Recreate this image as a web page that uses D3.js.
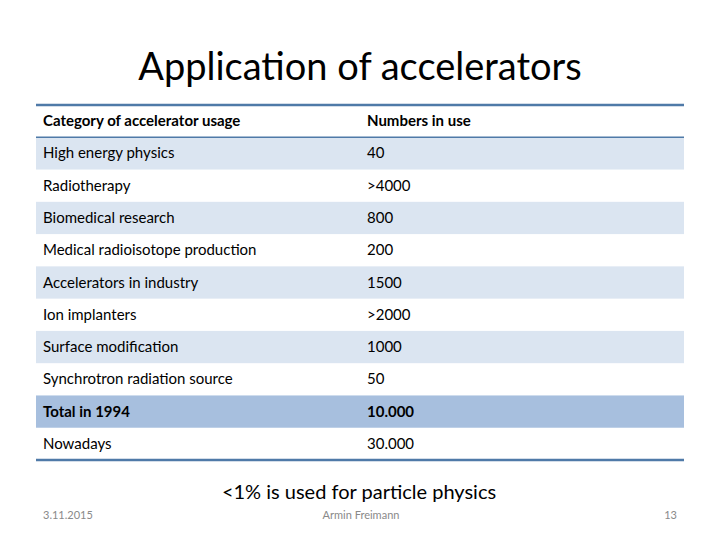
<!DOCTYPE html>
<html><head><meta charset="utf-8">
<script src="https://cdn.jsdelivr.net/npm/d3@7"></script>
<style>body{margin:0;background:#fff}</style></head>
<body><svg id="c" width="720" height="540"></svg>
<script>
const categories=["High energy physics","Radiotherapy","Biomedical research","Medical radioisotope production","Accelerators in industry","Ion implanters","Surface modification","Synchrotron radiation source","Total in 1994","Nowadays"];
const numbers=["40",">4000","800","200","1500",">2000","1000","50","10.000","30.000"];
const headers=["Category of accelerator usage","Numbers in use"];
const svg=d3.select("#c");
const F="Lato, 'Open Sans', sans-serif";
svg.append("text").attr("x",360).attr("y",80).attr("text-anchor","middle").attr("font-family",F).attr("font-size",38).attr("fill","#000").text("Application of accelerators");
const rows=[headers].concat(categories.map((c,i)=>[c,numbers[i]]));
const y=d3.scaleBand().domain(d3.range(rows.length)).range([105,460]);
const x0=36,x1=684,cx=[43,367];
const g=svg.append("g");
rows.forEach((r,i)=>{
  let fill=null;
  if(i===9) fill="#a7bfde"; else if(i>0 && i%2===1) fill="#dbe5f1";
  if(fill) g.append("rect").attr("x",x0).attr("y",y(i)).attr("width",x1-x0).attr("height",y.bandwidth()).attr("fill",fill);
  const bold=(i===0||i===9);
  r.forEach((t,j)=>g.append("text").attr("x",cx[j]).attr("y",y(i)+y.bandwidth()/2+5).attr("font-family",F).attr("font-size",15).attr("font-weight",bold?"bold":"normal").attr("fill","#000").text(t));
});
[[105,2.5],[y(1),1.5],[460,2.5]].forEach(([yy,w])=>g.append("line").attr("x1",x0).attr("x2",x1).attr("y1",yy).attr("y2",yy).attr("stroke","#4f7aa8").attr("stroke-width",w));
svg.append("text").attr("x",359).attr("y",499).attr("text-anchor","middle").attr("font-family",F).attr("font-size",20).text("<1% is used for particle physics");
svg.append("text").attr("x",43).attr("y",519).attr("font-family",F).attr("font-size",11).attr("fill","#898989").text("3.11.2015");
svg.append("text").attr("x",361).attr("y",519).attr("text-anchor","middle").attr("font-family",F).attr("font-size",11).attr("fill","#898989").text("Armin Freimann");
svg.append("text").attr("x",677).attr("y",519).attr("text-anchor","end").attr("font-family",F).attr("font-size",11).attr("fill","#898989").text("13");
</script></body></html>
